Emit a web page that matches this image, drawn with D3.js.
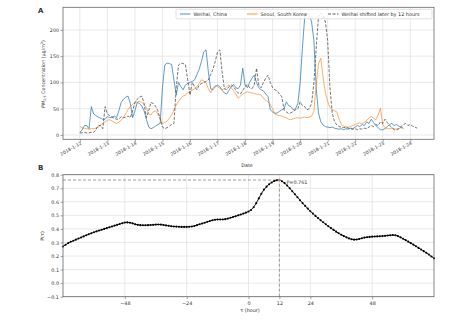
<!DOCTYPE html>
<html><head><meta charset="utf-8">
<script src="https://cdn.jsdelivr.net/npm/d3@7"></script>
<style>
body{margin:0;background:#fff}
svg{display:block}
text{font-family:"DejaVu Sans",sans-serif;fill:#333}
</style>
</head><body><svg id="c" width="474" height="323"></svg>
<script>
// ---------- data ----------
const weihaiStart = Date.UTC(2018, 0, 11, 12); // 2-hourly samples
const seoulStart = Date.UTC(2018, 0, 12, 0);
const stepHours = 2;
const shiftHours = 12;
const blueFrom = Date.UTC(2018, 0, 12, 0);

const weihai = [
  4, 4, 5, 4, 4, 5,
  5, 10, 18, 18, 12, 54, 40, 37, 34, 32, 30, 30,
  35, 33, 34, 36, 33, 46, 62, 68, 72, 74, 60, 33,
  46, 62, 60, 55, 46, 30, 15, 12, 14, 17, 20, 22,
  90, 133, 137, 136, 134, 105, 76, 100, 92, 86, 95, 98,
  100, 102, 105, 115, 125, 140, 158, 162, 120, 88, 86, 92,
  95, 92, 85, 80, 78, 85, 92, 96, 90, 88, 95, 127,
  95, 90, 100, 108, 114, 100, 90, 86, 84, 78, 73, 48,
  44, 41, 42, 45, 48, 50, 63, 56, 54, 48, 50, 60,
  99, 165, 225, 232, 228, 215, 180, 90, 42, 25, 19, 16,
  15, 14, 15, 13, 12, 11, 12, 10, 12, 11, 13, 12,
  15, 18, 16, 20, 18, 25, 22, 30, 24, 18, 14, 10,
  10, 12, 16, 20, 22, 18, 20, 17, 15, 13
];
const seoul = [
  16, 14, 12, 12, 11, 12, 12, 13, 15, 19, 22, 25,
  28, 29, 27, 24, 22, 24, 28, 34, 41, 48, 54, 58,
  62, 63, 64, 62, 58, 52, 40, 38, 44, 46, 40, 32,
  22, 24, 26, 32, 38, 48, 57, 64, 70, 74, 76, 80,
  83, 85, 88, 92, 98, 105, 103, 99, 88, 80, 90, 94,
  92, 89, 86, 88, 92, 95, 90, 84, 78, 70, 74, 78,
  80, 82, 81, 80, 79, 78, 77, 76, 70, 66, 63, 58,
  50, 40, 38, 37, 36, 34, 33, 30, 29, 31, 32, 33,
  32, 33, 34, 33, 34, 36, 45, 95, 135, 146, 110, 80,
  64, 52, 48, 46, 44, 30, 20, 17, 15, 15, 16, 18,
  20, 22, 23, 22, 24, 28, 32, 35, 32, 29, 38, 51,
  20, 14, 12, 12, 13, 12, 11, 12, 14, 12
];
const dateTickDays = [12, 13, 14, 15, 16, 17, 18, 19, 20, 21, 22, 23, 24];
const yTicksA = [0, 50, 100, 150, 200];
const seriesNames = ["Weihai, China", "Seoul, South Korea", "Weihai shifted later by 12 hours"];

const lagStart = -72; // hourly lags -72..72
const corr = [
  0.270, 0.283, 0.295, 0.305, 0.313, 0.321, 0.329, 0.337, 0.345, 0.353, 0.361, 0.368,
  0.375, 0.382, 0.388, 0.394, 0.400, 0.406, 0.412, 0.418, 0.424, 0.430, 0.436, 0.442,
  0.447, 0.448, 0.446, 0.441, 0.435, 0.430, 0.428, 0.427, 0.427, 0.428, 0.429, 0.430,
  0.432, 0.433, 0.432, 0.429, 0.426, 0.423, 0.420, 0.418, 0.417, 0.416, 0.415, 0.415,
  0.415, 0.416, 0.418, 0.422, 0.428, 0.434, 0.440, 0.446, 0.452, 0.458, 0.464, 0.468,
  0.470, 0.470, 0.470, 0.472, 0.476, 0.482, 0.488, 0.494, 0.500, 0.506, 0.513, 0.520,
  0.528, 0.540, 0.560, 0.590, 0.625, 0.660, 0.690, 0.712, 0.730, 0.743, 0.753, 0.759,
  0.761, 0.752, 0.738, 0.720, 0.700, 0.678, 0.656, 0.634, 0.612, 0.590, 0.570, 0.550,
  0.530, 0.513, 0.496, 0.480, 0.464, 0.449, 0.434, 0.420, 0.406, 0.393, 0.380, 0.368,
  0.357, 0.347, 0.338, 0.330, 0.324, 0.321, 0.322, 0.326, 0.331, 0.336, 0.339, 0.341,
  0.343, 0.344, 0.345, 0.346, 0.347, 0.349, 0.351, 0.353, 0.355, 0.353, 0.347, 0.338,
  0.328, 0.317, 0.306, 0.295, 0.284, 0.272, 0.260, 0.248, 0.236, 0.224, 0.211, 0.197,
  0.183
];
const lagTicks = [-48, -24, 0, 12, 24, 48];
const corrTicks = [-0.1, 0, 0.1, 0.2, 0.3, 0.4, 0.5, 0.6, 0.7, 0.8];
const peakLag = 12, peakValue = 0.761;

// ---------- build ----------
const H = 3600 * 1000;
const weihaiPts = weihai.map((v, i) => ({t: new Date(weihaiStart + i * stepHours * H), v}));
const bluePts = weihaiPts.filter(d => +d.t >= blueFrom);
const shiftedPts = weihaiPts.map(d => ({t: new Date(+d.t + shiftHours * H), v: d.v}));
const seoulPts = seoul.map((v, i) => ({t: new Date(seoulStart + i * stepHours * H), v}));
const corrPts = corr.map((v, i) => ({lag: lagStart + i, v}));

const svg = d3.select("#c");
const grid = "#e3e3e3", frame = "#666";

// ===== Panel A =====
const A = {l: 63, r: 434, t: 7.3, b: 139.3};
const tMin = d3.min(shiftedPts.concat(bluePts), d => +d.t);
const tMax = d3.max(shiftedPts, d => +d.t);
const pad = (tMax - tMin) * 0.05;
const xA = d3.scaleUtc().domain([new Date(tMin - pad), new Date(tMax + pad)]).range([A.l, A.r]);
const yA = d3.scaleLinear().domain([-8.2, 243]).range([A.b, A.t]);

svg.append("defs").append("clipPath").attr("id", "clipA")
  .append("rect").attr("x", A.l).attr("y", A.t).attr("width", A.r - A.l).attr("height", A.b - A.t);

const dateTicks = dateTickDays.map(d => new Date(Date.UTC(2018, 0, d)));
const fmtDate = d => `${d.getUTCFullYear()}-${d.getUTCMonth() + 1}-${d.getUTCDate()}`;

// grid
const gA = svg.append("g");
gA.selectAll(".vg").data(dateTicks).join("line")
  .attr("x1", d => xA(d)).attr("x2", d => xA(d)).attr("y1", A.t).attr("y2", A.b)
  .attr("stroke", grid).attr("stroke-width", 0.8);
gA.selectAll(".hg").data(yTicksA).join("line")
  .attr("x1", A.l).attr("x2", A.r).attr("y1", d => yA(d)).attr("y2", d => yA(d))
  .attr("stroke", grid).attr("stroke-width", 0.8);

const lineA = d3.line().x(d => xA(d.t)).y(d => yA(d.v));
const plotA = svg.append("g").attr("clip-path", "url(#clipA)");
plotA.append("path").datum(bluePts).attr("d", lineA)
  .attr("fill", "none").attr("stroke", "#1f77b4").attr("stroke-width", 0.8).attr("stroke-opacity", 0.9);
plotA.append("path").datum(seoulPts).attr("d", lineA)
  .attr("fill", "none").attr("stroke", "#ff7f0e").attr("stroke-width", 0.8).attr("stroke-opacity", 0.8);
plotA.append("path").datum(shiftedPts).attr("d", lineA)
  .attr("fill", "none").attr("stroke", "#333").attr("stroke-width", 0.8).attr("stroke-opacity", 0.85)
  .attr("stroke-dasharray", "3,1.5");

// frame
svg.append("rect").attr("x", A.l).attr("y", A.t).attr("width", A.r - A.l).attr("height", A.b - A.t)
  .attr("fill", "none").attr("stroke", frame).attr("stroke-width", 0.8);

// axes
const axA = svg.append("g").attr("transform", `translate(0,${A.b})`)
  .call(d3.axisBottom(xA).tickValues(dateTicks).tickFormat(fmtDate).tickSize(2.5).tickPadding(1.5));
axA.select(".domain").remove();
axA.selectAll("line").attr("stroke", frame).attr("stroke-width", 0.6);
axA.selectAll("text").attr("font-size", 4.6).attr("fill", "#333")
  .attr("text-anchor", "end").attr("dy", "0.2em").attr("dx", "0em")
  .attr("transform", "rotate(-30)")
  .attr("x", -1).attr("y", 4);
axA.selectAll(".tick text").attr("transform", function(){ return "rotate(-30)"; });

const ayA = svg.append("g").attr("transform", `translate(${A.l},0)`)
  .call(d3.axisLeft(yA).tickValues(yTicksA).tickSize(2.5).tickPadding(1.5));
ayA.select(".domain").remove();
ayA.selectAll("line").attr("stroke", frame).attr("stroke-width", 0.6);
ayA.selectAll("text").attr("font-size", 4.8).attr("fill", "#333");

// labels
svg.append("text").attr("x", 247).attr("y", 167).attr("text-anchor", "middle").attr("font-size", 4.8).text("Date");
const ylA = svg.append("text").attr("transform", "translate(45,74) rotate(-90)")
  .attr("text-anchor", "middle").attr("font-size", 4.8);
ylA.append("tspan").attr("font-style", "italic").text("PM");
ylA.append("tspan").attr("font-size", 3.4).attr("dy", 1.2).text("2.5");
ylA.append("tspan").attr("dy", -1.2).text(" Concentration (μg/m");
ylA.append("tspan").attr("font-size", 3.4).attr("dy", -1.8).text("3");
ylA.append("tspan").attr("dy", 1.8).text(")");
svg.append("text").attr("x", 38).attr("y", 13).attr("font-size", 7).attr("font-weight", "bold").attr("fill", "#111").text("A");

// legend
const lg = svg.append("g");
lg.append("rect").attr("x", 176).attr("y", 9.3).attr("width", 256).attr("height", 9.5).attr("rx", 1.2)
  .attr("fill", "#fff").attr("fill-opacity", 0.8).attr("stroke", "#ccc").attr("stroke-width", 0.6);
const legItems = [
  {x: 180, name: seriesNames[0], color: "#1f77b4", dash: null},
  {x: 247, name: seriesNames[1], color: "#ff7f0e", dash: null},
  {x: 328, name: seriesNames[2], color: "#333", dash: "3,1.5"}
];
legItems.forEach(it => {
  lg.append("line").attr("x1", it.x).attr("x2", it.x + 10.5).attr("y1", 14).attr("y2", 14)
    .attr("stroke", it.color).attr("stroke-width", 0.8).attr("stroke-dasharray", it.dash);
  lg.append("text").attr("x", it.x + 13.5).attr("y", 15.8).attr("font-size", 4.9).text(it.name);
});

// ===== Panel B =====
const B = {l: 63, r: 434, t: 174.7, b: 296.7};
const xB = d3.scaleLinear().domain([lagStart, lagStart + corr.length - 1]).range([B.l, B.r]);
const yB = d3.scaleLinear().domain([-0.1, 0.8]).range([B.b, B.t]);

const gB = svg.append("g");
gB.selectAll("line.v").data(lagTicks).join("line")
  .attr("x1", d => xB(d)).attr("x2", d => xB(d)).attr("y1", B.t).attr("y2", B.b)
  .attr("stroke", grid).attr("stroke-width", 0.8);
gB.selectAll("line.h").data(corrTicks).join("line")
  .attr("x1", B.l).attr("x2", B.r).attr("y1", d => yB(d)).attr("y2", d => yB(d))
  .attr("stroke", grid).attr("stroke-width", 0.8);

// reference dashed lines
svg.append("line").attr("x1", B.l).attr("x2", xB(peakLag)).attr("y1", yB(peakValue)).attr("y2", yB(peakValue))
  .attr("stroke", "#888").attr("stroke-width", 0.8).attr("stroke-dasharray", "3,2");
svg.append("line").attr("x1", xB(peakLag)).attr("x2", xB(peakLag)).attr("y1", B.b).attr("y2", yB(peakValue))
  .attr("stroke", "#888").attr("stroke-width", 0.8).attr("stroke-dasharray", "3,2");

const lineB = d3.line().x(d => xB(d.lag)).y(d => yB(d.v));
svg.append("path").datum(corrPts).attr("d", lineB)
  .attr("fill", "none").attr("stroke", "#000").attr("stroke-width", 0.9);
svg.append("g").selectAll("circle").data(corrPts).join("circle")
  .attr("cx", d => xB(d.lag)).attr("cy", d => yB(d.v)).attr("r", 1.05).attr("fill", "#000");
svg.append("circle").attr("cx", xB(peakLag)).attr("cy", yB(peakValue)).attr("r", 1.6)
  .attr("fill", "#e88").attr("fill-opacity", 0.8);
svg.append("text").attr("x", xB(peakLag) + 7).attr("y", yB(peakValue) + 4.5).attr("font-size", 4.9)
  .text("P=" + peakValue);

svg.append("rect").attr("x", B.l).attr("y", B.t).attr("width", B.r - B.l).attr("height", B.b - B.t)
  .attr("fill", "none").attr("stroke", frame).attr("stroke-width", 0.8);

const fmtMinus = v => String(v).replace("-", "\u2212");
const axB = svg.append("g").attr("transform", `translate(0,${B.b})`)
  .call(d3.axisBottom(xB).tickValues(lagTicks).tickFormat(fmtMinus).tickSize(2.5).tickPadding(2));
axB.select(".domain").remove();
axB.selectAll("line").attr("stroke", frame).attr("stroke-width", 0.6);
axB.selectAll("text").attr("font-size", 4.9).attr("fill", "#333");

const ayB = svg.append("g").attr("transform", `translate(${B.l},0)`)
  .call(d3.axisLeft(yB).tickValues(corrTicks).tickFormat(d => fmtMinus(d3.format(".1f")(d))).tickSize(2.5).tickPadding(1.5));
ayB.select(".domain").remove();
ayB.selectAll("line").attr("stroke", frame).attr("stroke-width", 0.6);
ayB.selectAll("text").attr("font-size", 4.9).attr("fill", "#333");

svg.append("text").attr("x", 250).attr("y", 312).attr("text-anchor", "middle").attr("font-size", 4.9).text("τ (hour)");
svg.append("text").attr("transform", "translate(44,236) rotate(-90)").attr("text-anchor", "middle")
  .attr("font-size", 4.9).text("P(τ)");
svg.append("text").attr("x", 38).attr("y", 170).attr("font-size", 7).attr("font-weight", "bold").attr("fill", "#111").text("B");
</script>
</body></html>
